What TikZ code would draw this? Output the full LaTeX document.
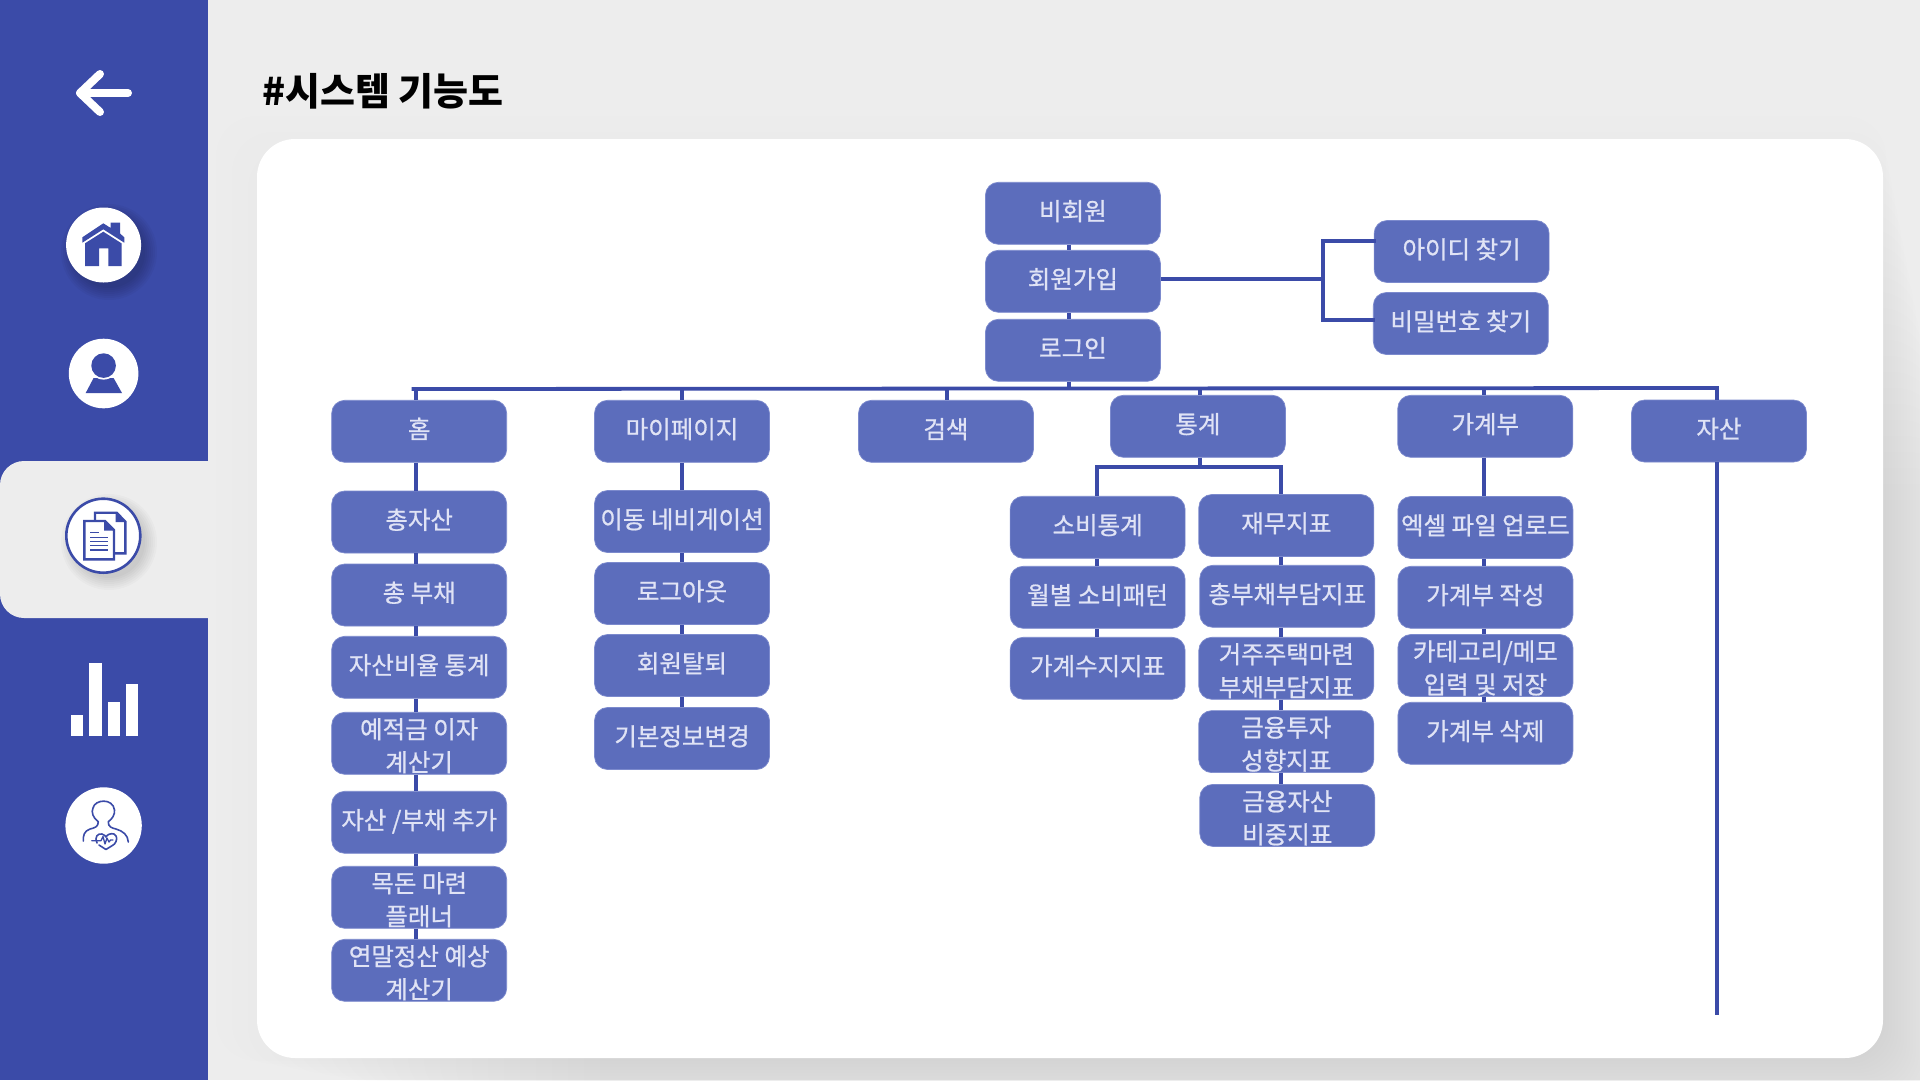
\documentclass[tikz,border=0pt]{standalone}
\usepackage{fontspec}
\setmainfont{Noto Sans CJK KR}
\newfontfamily\boxfont[FakeBold=0.8]{Noto Sans CJK KR}
\definecolor{sidebar}{RGB}{59,75,168}
\definecolor{boxfill}{RGB}{92,109,188}
\definecolor{boxedge}{RGB}{124,138,205}
\definecolor{boxtext}{RGB}{224,227,245}
\definecolor{paper}{RGB}{237,237,237}
\tikzset{
  fnbox/.style={draw=boxedge,line width=0.7pt,fill=boxfill,rounded corners=13pt,
    minimum width=175pt,minimum height=62pt,inner sep=0pt,text=boxtext,
    font=\boxfont\fontsize{24.5}{33}\selectfont,text height=18pt,text depth=4pt},
  fnboxtwo/.style={draw=boxedge,line width=0.7pt,fill=boxfill,rounded corners=13pt,
    minimum width=175pt,minimum height=62pt,inner sep=0pt,text=boxtext,
    font=\boxfont\fontsize{24.5}{33}\selectfont,align=center,text height=56.3pt,text depth=0pt},
  link/.style={draw=sidebar,line width=3.8pt},
  iconline/.style={draw=sidebar,line width=1.6pt,line cap=round,line join=round}
}
\begin{document}
\begin{tikzpicture}[x=1pt,y=-1pt]
\useasboundingbox (0,0) rectangle (1920,1080);
\clip (0,0) rectangle (1920,1080);
\fill[paper] (0,0) rectangle (1920,1080);

% card and its soft shadow
\foreach \i in {1,...,25}
  \fill[black,opacity=0.0034,rounded corners=40pt]
    (200+16*\i,100+16*\i) rectangle (1883+3*\i,1058+3*\i);
\fill[white,rounded corners=38pt] (257,139) rectangle (1883,1058);

% side bar with the open tab
\fill[sidebar] (0,0) rectangle (207.5,1080);
\fill[paper] (209,461) [rounded corners=24pt] -- (0,461) -- (0,618) [sharp corners] -- (209,618) -- cycle;

% back arrow
\draw[white,line width=8pt,line cap=round,line join=round] (128,93) -- (80,93);
\draw[white,line width=8pt,line cap=round,line join=round] (100,74) -- (80,93) -- (100,112);

% home icon
\foreach \r in {36,38,...,48}
  \fill[black,opacity=0.03] (109,252) circle (\r);
\fill[white] (103.6,245) circle (37.5);
\fill[sidebar] (82.3,237.3) -- (103.3,223.3) -- (110.7,228) -- (110.7,222.7) -- (120,222.7) -- (120,233.5)
  -- (124.3,237.3) -- (124.3,242.7) -- (103.3,229.3) -- (82.3,242.7) -- cycle;
\fill[sidebar] (85,243.3) -- (103.3,231.7) -- (121.5,243.3) -- (121.5,266) -- (108.3,266) -- (108.3,248.3)
  -- (99,248.3) -- (99,266) -- (85,266) -- cycle;

% user icon
\fill[white] (103.6,373.5) circle (34.8);
\fill[sidebar] (85.7,393) -- (93.6,378) -- (113.6,378) -- (122,393) -- cycle;
\fill[white] (103.6,365.6) circle (14);
\fill[sidebar] (103.6,365.6) circle (12.3);

% document icon
\foreach \r in {36,38,...,48}
  \fill[black,opacity=0.02] (109,542) circle (\r);
\draw[sidebar,fill=white,line width=2.6pt] (103.3,535.7) circle (37);
\draw[sidebar,fill=white,line width=2.4pt,line join=miter] (95,512.7) -- (116.7,512.7) -- (125.3,521.7) -- (125.3,553.3) -- (95,553.3) -- cycle;
\fill[sidebar] (115.5,513) -- (125,522) -- (115.5,522) -- cycle;
\draw[sidebar,fill=white,line width=2.4pt,line join=miter] (84.3,521) -- (105,521) -- (114,530) -- (114,559.3) -- (84.3,559.3) -- cycle;
\fill[sidebar] (104,521.5) -- (113.5,530.5) -- (104,530.5) -- cycle;
\draw[sidebar,line width=1.4pt] (90,532.7) -- (99,532.7);
\foreach \y in {537.3,541.7,545.7,550}
  \draw[sidebar,line width=1.4pt] (90,\y) -- (108.3,\y);

% bar chart icon
\fill[white] (71,714.7) rectangle (83,736);
\fill[white] (89,662.7) rectangle (102,736);
\fill[white] (107.5,702.3) rectangle (120,736);
\fill[white] (125.7,684) rectangle (137.9,736);

% person with heart icon
\fill[white] (103.6,825.5) circle (38.2);
\draw[iconline] (98.3,821.7) .. controls (93,818) and (91,812) .. (93,808) .. controls (95,799) and (113,798) .. (114.5,810)
  .. controls (115,815) and (112,819) .. (108.3,821.7) .. controls (108,827) and (112,828) .. (116,829)
  .. controls (123,831) and (128,835) .. (128.3,842);
\draw[iconline] (98.3,821.7) .. controls (98.5,827) and (94,828) .. (90,829) .. controls (84,831) and (83,836) .. (83.3,841);
\draw[iconline] (97,843) .. controls (94,837) and (98,833) .. (102,834) .. controls (104,834.5) and (105.5,836) .. (106,837)
  .. controls (107,834.5) and (111,833) .. (114,834) .. controls (118,836) and (117,841) .. (114.5,844)
  .. controls (112,846) and (108,848) .. (106,849.5) .. controls (104,848) and (101,846.5) .. (99,845);
\draw[iconline,line width=1.3pt] (91.7,840.7) -- (101,840.7) -- (103,836.5) -- (105,844) -- (107,838) -- (109,842) -- (110.5,840) -- (113,840);

% title
\node[font=\fontsize{38}{44}\selectfont\bfseries,anchor=west] (title) at (258.5,91) {\#시스템 기능도};

% top block
\node[fnbox] (nonmember) at (1072.9,213.3) {비회원};
\node[fnbox] (signup) at (1072.9,281.3) {회원가입};
\node[fnbox] (login) at (1072.9,350.3) {로그인};
\node[fnbox] (findid) at (1461.6,251.5) {아이디 찾기};
\node[fnbox] (findpw) at (1460.8,323.5) {비밀번호 찾기};

% first row under the bus
\node[fnbox] (home) at (419.2,431.3) {홈};
\node[fnbox] (mypage) at (682,431.3) {마이페이지};
\node[fnbox] (search) at (946,431.3) {검색};
\node[fnbox] (stats) at (1197.9,426.3) {통계};
\node[fnbox] (ledger) at (1485.3,426.3) {가계부};
\node[fnbox] (asset) at (1719,431) {자산};

% home column
\node[fnbox] (totalasset) at (419.2,522) {총자산};
\node[fnbox] (totaldebt) at (419.2,595) {총 부채};
\node[fnbox] (assetratio) at (419.2,667.3) {자산비율 통계};
\node[fnboxtwo] (saving) at (419.2,743.3) {예적금 이자\\계산기};
\node[fnbox] (addasset) at (419.2,822.3) {자산 /부채 추가};
\node[fnboxtwo] (goalfund) at (419.2,897.3) {목돈 마련\\플래너};
\node[fnboxtwo] (yearend) at (419.2,970.3) {연말정산 예상\\계산기};

% my page column
\node[fnbox] (navi) at (682,521.5) {이동 네비게이션};
\node[fnbox] (logout) at (682,593.5) {로그아웃};
\node[fnbox] (withdraw) at (682,665.5) {회원탈퇴};
\node[fnbox] (profile) at (682,738.5) {기본정보변경};

% statistics columns
\node[fnbox] (consume) at (1097.6,527.3) {소비통계};
\node[fnbox] (monthly) at (1097.6,597.3) {월별 소비패턴};
\node[fnbox] (household) at (1097.6,668.3) {가계수지지표};
\node[fnbox] (finance) at (1286.3,525.5) {재무지표};
\node[fnbox] (debtload) at (1287.3,596.3) {총부채부담지표};
\node[fnboxtwo] (housing) at (1286.3,668.3) {거주주택마련\\부채부담지표};
\node[fnboxtwo] (invest) at (1286.3,741.6) {금융투자\\성향지표};
\node[fnboxtwo] (finasset) at (1287.3,815.4) {금융자산\\비중지표};

% ledger column
\node[fnbox] (excel) at (1485.4,527.5) {엑셀 파일 업로드};
\node[fnbox] (write) at (1485.4,597.3) {가계부 작성};
\node[fnboxtwo] (category) at (1485.4,665.5) {카테고리/메모\\입력 및 저장};
\node[fnbox] (remove) at (1485.4,733.3) {가계부 삭제};

% stems on the bus
\coordinate (busL) at (413.5,389);
\coordinate (busR) at (1717,388);
\coordinate (loginX) at (1068.6,388.5);
\coordinate (homeX) at (415.7,389);
\coordinate (myX) at (682.3,389);
\coordinate (searchX) at (947,389);
\coordinate (statsX) at (1200,389);
\coordinate (ledgerX) at (1483.6,388);
\coordinate (assetEnd) at (1717,1015);
\coordinate (forkMid) at (1323,279.3);
\coordinate (forkTop) at (1323,241);
\coordinate (forkBot) at (1323,320);
\coordinate (consumeX) at (1097,466.7);
\coordinate (financeX) at (1280.9,466.7);

\draw[link,line cap=rect] (busL) -- (busR);
\draw[link] (busR) -- (asset.north -| busR);
\draw[link] (asset.south -| busR) -- (assetEnd);
\foreach \p/\b in {homeX/home,myX/mypage,searchX/search,statsX/stats,ledgerX/ledger}
  \draw[link] (\p) -- (\b.north -| \p);
\draw[link] (login.south -| loginX) -- (loginX);
\foreach \a/\b in {nonmember/signup,signup/login}
  \draw[link] (\a.south -| loginX) -- (\b.north -| loginX);
\draw[link] (signup.east |- forkMid) -- (forkMid);
\draw[link,line cap=rect] (findid.west |- forkTop) -- (forkTop) -- (forkBot) -- (findpw.west |- forkBot);
\foreach \a/\b in {home/totalasset,totalasset/totaldebt,totaldebt/assetratio,assetratio/saving,saving/addasset,addasset/goalfund,goalfund/yearend}
  \draw[link] (\a.south -| homeX) -- (\b.north -| homeX);
\foreach \a/\b in {mypage/navi,navi/logout,logout/withdraw,withdraw/profile}
  \draw[link] (\a.south -| myX) -- (\b.north -| myX);
\draw[link] (stats.south -| statsX) -- (statsX |- consumeX);
\draw[link,line join=miter] (consume.north -| consumeX) -- (consumeX) -- (financeX) -- (finance.north -| financeX);
\foreach \a/\b in {consume/monthly,monthly/household}
  \draw[link] (\a.south -| consumeX) -- (\b.north -| consumeX);
\foreach \a/\b in {finance/debtload,debtload/housing,housing/invest,invest/finasset}
  \draw[link] (\a.south -| financeX) -- (\b.north -| financeX);
\foreach \a/\b in {ledger/excel,excel/write,write/category,category/remove}
  \draw[link] (\a.south -| ledgerX) -- (\b.north -| ledgerX);
\end{tikzpicture}
\end{document}
